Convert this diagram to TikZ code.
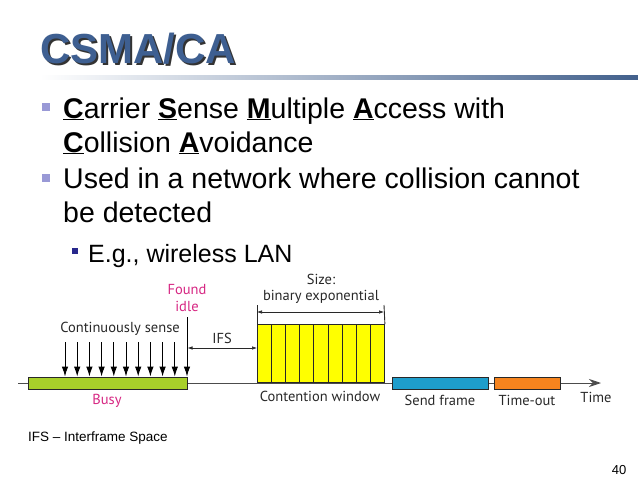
\documentclass[tikz,border=0pt]{standalone}
\usepackage{fontspec}
\setmainfont{Liberation Sans}
\newfontfamily\figfont{PT Sans}
\definecolor{titleblue}{RGB}{62, 95, 145}
\definecolor{barblue}{RGB}{66, 96, 140}
\definecolor{bulletlav}{RGB}{153, 153, 214}
\definecolor{subblue}{RGB}{40, 40, 140}
\definecolor{busygreen}{RGB}{168, 208, 42}
\definecolor{cwyellow}{RGB}{255, 255, 0}
\definecolor{sendblue}{RGB}{30, 158, 204}
\definecolor{timeorange}{RGB}{246, 132, 30}
\definecolor{idlepink}{RGB}{214, 38, 130}
\definecolor{figgray}{RGB}{40, 40, 40}
\usetikzlibrary{arrows.meta, positioning}
\newcommand{\ulb}[1]{\underline{\textbf{#1}}}

\begin{document}
\begin{tikzpicture}[x=1pt, y=-1pt,
  line1/.style={anchor=base west, inner sep=0pt, font=\fontsize{28.5}{34}\selectfont},
  line2/.style={anchor=base west, inner sep=0pt, font=\fontsize{25}{30}\selectfont},
  bullet1/.style={fill=bulletlav, minimum size=8pt, inner sep=0pt},
  bullet2/.style={fill=subblue, minimum size=6pt, inner sep=0pt},
  lbl/.style={inner sep=0pt, text=figgray, font=\figfont\fontsize{14.5}{17}\selectfont},
  pinklbl/.style={lbl, text=idlepink},
  bar/.style={draw=figgray, line width=0.8pt, minimum height=12pt, inner sep=0pt},
  slot/.style={draw=figgray, line width=0.9pt, fill=cwyellow, minimum width=14.11pt, minimum height=58pt, inner sep=0pt, anchor=south west},
  sensearrow/.style={-{Latex[length=10pt, width=6.5pt]}, line width=1pt},
  sizearrow/.style={{Latex[length=5pt, width=3.5pt]}-{Latex[length=5pt, width=3.5pt]}, line width=0.6pt, draw=figgray},
  guide/.style={line width=0.9pt, draw=figgray},
  axis/.style={-{Stealth[length=12pt, width=8pt]}, line width=0.9pt, draw=black!70}
]
  \useasboundingbox (0,0) rectangle (638,479);

  % Title
  \node[anchor=base west, inner sep=0pt, font=\fontsize{42}{50}\selectfont\bfseries, text=black!80] (titleshadow) at (42,65) {CSMA/CA};
  \node[anchor=base west, inner sep=0pt, font=\fontsize{42}{50}\selectfont\bfseries, text=titleblue] (title) at (40,63) {CSMA/CA};
  \shade[left color=white, right color=barblue] (40,75) rectangle (638,79);

  % Bullets
  \node[bullet1] (b1) at (45.5,107) {};
  \node[line1] (l1a) at (63,118) {\ulb{C}arrier \ulb{S}ense \ulb{M}ultiple \ulb{A}ccess with};
  \node[line1] (l1b) at (63,152) {\ulb{C}ollision \ulb{A}voidance};
  \node[bullet1] (b2) at (45.5,178) {};
  \node[line1] (l2a) at (63,188) {Used in a network where collision cannot};
  \node[line1] (l2b) at (63,222) {be detected};
  \node[bullet2] (b3) at (74.5,251) {};
  \node[line2] (l3) at (88,262) {E.g., wireless LAN};

  % Time axis
  \coordinate (axisstart) at (18,383);
  \coordinate (axisend) at (601,383);
  \draw[axis] (axisstart) -- (axisend);
  \node[lbl] (time) at (596,397) {Time};

  % Busy medium and sensing
  \node[bar, fill=busygreen, minimum width=159pt] (busy) at (107.5,383) {};
  \node[pinklbl] (busylbl) at (107,401) {Busy};
  \node[lbl] (sense) at (120,329) {Continuously sense};
  \foreach \i in {0,...,9} {
    \coordinate (s\i) at (65+12.2*\i,342);
    \draw[sensearrow] (s\i) -- (s\i |- busy.north);
  }
  \coordinate (idletop) at (187,317);
  \draw[sensearrow] (idletop) -- (idletop |- busy.north);
  \node[pinklbl, align=center] (found) at (187,298) {Found\\idle};

  % IFS
  \coordinate (ifsl) at (187.5,348);
  \node[lbl] (ifs) at (222,338) {IFS};

  % Contention window
  \foreach \i in {0,...,8}
    \node[slot] (cell\i) at (257+14.11*\i,383) {};
  \draw[sizearrow] (ifsl) -- (ifsl -| cell0.west);
  \coordinate (cwl) at (257,305);
  \coordinate (cwr) at (384,305);
  \draw[guide] (cwl) -- (cell0.north west);
  \draw[guide] (cwr) -- (cell8.north east);
  \coordinate (sizel) at (257,312);
  \draw[sizearrow] (sizel) -- (sizel -| cwr);
  \node[lbl, align=center, font=\figfont\fontsize{14.5}{16}\selectfont] (size) at (321,289) {Size:\\binary exponential};
  \node[lbl] (cwlbl) at (320,396) {Contention window};

  % Send frame and time-out
  \node[bar, fill=sendblue, minimum width=96pt] (send) at (440.5,383) {};
  \node[lbl] (sendlbl) at (440,400) {Send frame};
  \node[bar, fill=timeorange, minimum width=66pt] (timeout) at (527,383) {};
  \node[lbl] (timeoutlbl) at (527,400) {Time-out};

  % Footer
  \node[anchor=west, inner sep=0pt, font=\fontsize{13.5}{16}\selectfont] (note) at (28,438) {IFS -- Interframe Space};
  \node[inner sep=0pt, font=\fontsize{13}{16}\selectfont] (page) at (619,470) {40};
\end{tikzpicture}
\end{document}
